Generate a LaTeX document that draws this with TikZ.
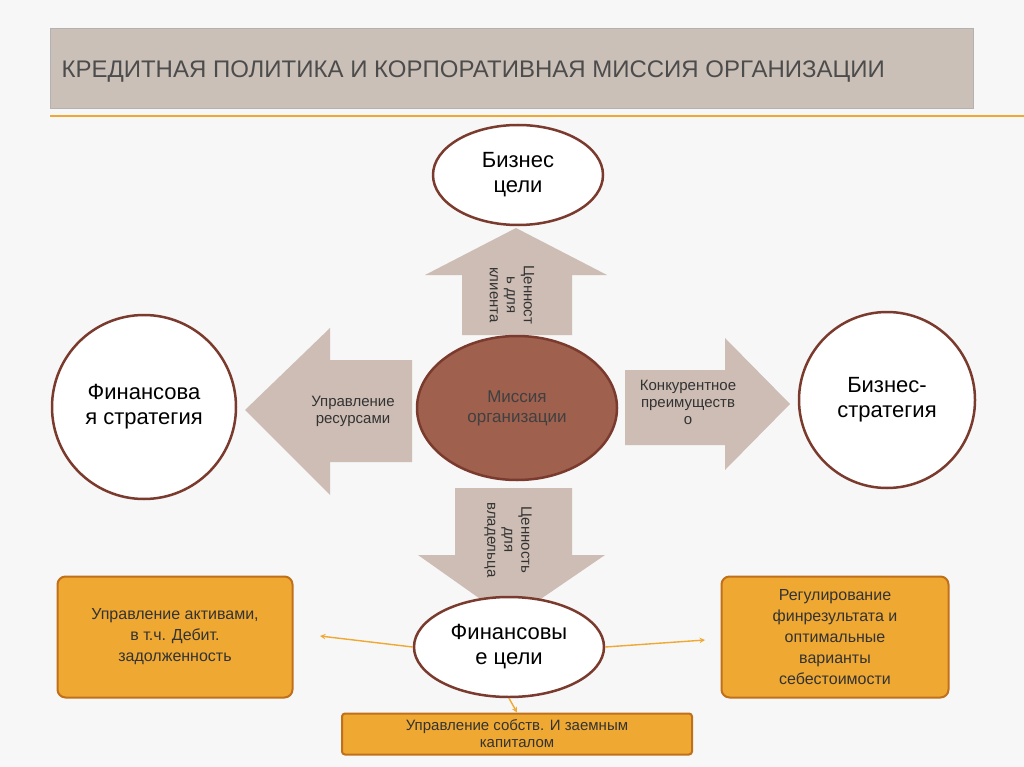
\documentclass[tikz,border=0pt]{standalone}
\usepackage{fontspec}
\setmainfont{Liberation Sans}
\usetikzlibrary{shapes.geometric}
\definecolor{bordo}{HTML}{7A3B2E}
\definecolor{mission}{HTML}{A0604E}
\definecolor{arrowfill}{HTML}{CDBDB4}
\definecolor{boxfill}{HTML}{EFA832}
\definecolor{boxline}{HTML}{C07018}
\definecolor{titlefill}{HTML}{CBC0B8}
\tikzset{
  goal/.style={ellipse, draw=bordo, line width=2.5pt, fill=white, align=center, font=\fontsize{22}{25}\selectfont},
  bigarrow/.style={fill=arrowfill, draw=none},
  arrowtext/.style={align=center, font=\fontsize{15}{17}\selectfont, text=black!80},
  taskbox/.style={draw=boxline, line width=2pt, fill=boxfill, rounded corners=8pt, align=center, font=\fontsize{16}{21}\selectfont, text=black!80},
  link/.style={->, >=stealth, draw=boxfill, line width=1.4pt}
}
\begin{document}
\begin{tikzpicture}[x=1pt,y=-1pt]
\useasboundingbox (0,0) rectangle (1024,767);
\fill[gray!6] (0,0) rectangle (1024,767);
% title
\fill[titlefill, draw=gray!60] (50,28) rectangle (973,108);
\node[anchor=west, font=\fontsize{24}{27}\selectfont, text=black!70] (title) at (58,72) {КРЕДИТНАЯ ПОЛИТИКА И КОРПОРАТИВНАЯ МИССИЯ ОРГАНИЗАЦИИ};
\draw[boxfill, line width=1.5pt] (50,116) -- (1024,116);
% arrows
\fill[bigarrow] (462,335) -- (462,275) -- (425,275) -- (516,228) -- (607,275) -- (572,275) -- (572,335) -- cycle;
\fill[bigarrow] (412,360) -- (330,360) -- (330,328) -- (245,410) -- (330,495) -- (330,462) -- (412,462) -- cycle;
\fill[bigarrow] (625,370) -- (725,370) -- (725,338) -- (790,404) -- (725,470) -- (725,445) -- (625,445) -- cycle;
\fill[bigarrow] (455,488) -- (572,488) -- (572,555) -- (605,555) -- (510,620) -- (418,555) -- (455,555) -- cycle;
\node[arrowtext, rotate=-90] (valclient) at (512,295) {Ценност\\ь для\\клиента};
\node[arrowtext] (resources) at (353,411) {Управление\\ресурсами};
\node[arrowtext] (advantage) at (688,402) {Конкурентное\\преимуществ\\о};
\node[arrowtext, rotate=-90] (valowner) at (508,540) {Ценность\\для\\владельца};
% ellipses
\node[goal, minimum width=170pt, minimum height=100pt] (bizgoal) at (518,175) {Бизнес\\цели};
\node[goal, circle, minimum size=184pt] (finstrat) at (144,407) {Финансова\\я стратегия};
\node[goal, circle, minimum size=176pt] (bizstrat) at (887,400) {Бизнес-\\стратегия};
\node[ellipse, draw=bordo, line width=2.5pt, fill=mission, minimum width=200pt, minimum height=144pt, align=center,
  font=\fontsize{17}{20}\selectfont, text=black!75] (mission) at (517,408) {Миссия\\организации};
\node[goal, minimum width=190pt, minimum height=100pt] (fingoal) at (509,647) {Финансовы\\е цели};
% boxes
\node[taskbox, minimum width=235pt, minimum height=121pt] (assets) at (175,637) {Управление активами,\\в т.ч. Дебит.\\задолженность};
\node[taskbox, minimum width=227pt, minimum height=121pt] (result) at (835,637) {Регулирование\\финрезультата и\\оптимальные\\варианты\\себестоимости};
\node[taskbox, rounded corners=3pt, minimum width=350pt, minimum height=41pt, font=\fontsize{15}{17}\selectfont] (capital) at (517,734) {Управление собств. И заемным\\капиталом};
\coordinate (lend) at (320,636);
\coordinate (rend) at (705,640);
\draw[link] (fingoal.west) -- (lend);
\draw[link] (fingoal.east) -- (rend);
\draw[link] (fingoal.south) -- (capital.north);
\end{tikzpicture}
\end{document}
